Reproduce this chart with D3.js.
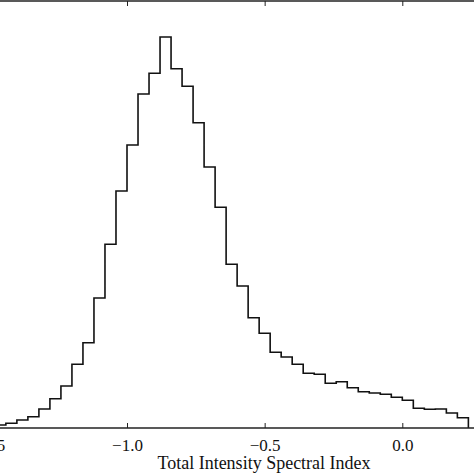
<!DOCTYPE html>
<html><head><meta charset="utf-8">
<script src="https://cdn.jsdelivr.net/npm/d3@7"></script>
<style>body{margin:0;background:#fff}</style></head>
<body><svg id="c" width="474" height="474"></svg>
<script>
const binStart = -1.48, binWidth = 0.04;
const counts = [3,4.7,8,11.3,19,29.3,42,63.7,85.3,130,183.7,237,
283,334,354.7,391,359.3,341.7,305.3,261,220.7,163.7,142,110.3,94.7,75.7,71,63.7,54.7,53.7,44.7,46.3,40.3,36.3,35,33.7,30.7,27.7,19.7,18.7,19,15,10.3];
const xTicks = [-1.5,-1.0,-0.5,0.0];
const xLabel = "Total Intensity Spectral Index";

const svg = d3.select("#c");
const x = d3.scaleLinear().domain([-1.5,0.3]).range([127-137.65, 402.3+82.6]);
const y = d3.scaleLinear().domain([0,427]).range([428,1]);
const bins = counts.map((c,i)=>({x0:binStart+i*binWidth, x1:binStart+(i+1)*binWidth, c}));
let d = `M${x(bins[0].x0)},${y(0)}`;
bins.forEach(b=>{ d += `L${x(b.x0)},${y(b.c)}L${x(b.x1)},${y(b.c)}`; });
d += `L${x(bins[bins.length-1].x1)},${y(0)}`;
svg.append("path").attr("d",d).attr("fill","none").attr("stroke","#111").attr("stroke-width",1.6);
svg.append("line").attr("x1",0).attr("x2",474).attr("y1",y(0)).attr("y2",y(0)).attr("stroke","#222").attr("stroke-width",1.3);
svg.append("line").attr("x1",0).attr("x2",474).attr("y1",1).attr("y2",1).attr("stroke","#222").attr("stroke-width",1.3);
const axB = d3.axisBottom(x).tickValues(xTicks).tickSize(-5).tickPadding(11).tickFormat(v=>d3.format(".1f")(v).replace("-","\u2212"));
const gB = svg.append("g").attr("transform",`translate(0,${y(0)})`).call(axB);
gB.select(".domain").remove();
gB.selectAll("text").attr("font-family","Liberation Serif, serif").attr("font-size",17).attr("fill","#111");
gB.selectAll("line").attr("stroke","#222");
const axT = d3.axisTop(x).tickValues(xTicks).tickSize(-5).tickFormat("");
const gT = svg.append("g").attr("transform","translate(0,1)").call(axT);
gT.select(".domain").remove();
gT.selectAll("line").attr("stroke","#222");
svg.append("text").attr("x",264).attr("y",469).attr("text-anchor","middle")
 .attr("font-family","Liberation Serif, serif").attr("font-size",18).attr("fill","#111").text(xLabel);
</script></body></html>
